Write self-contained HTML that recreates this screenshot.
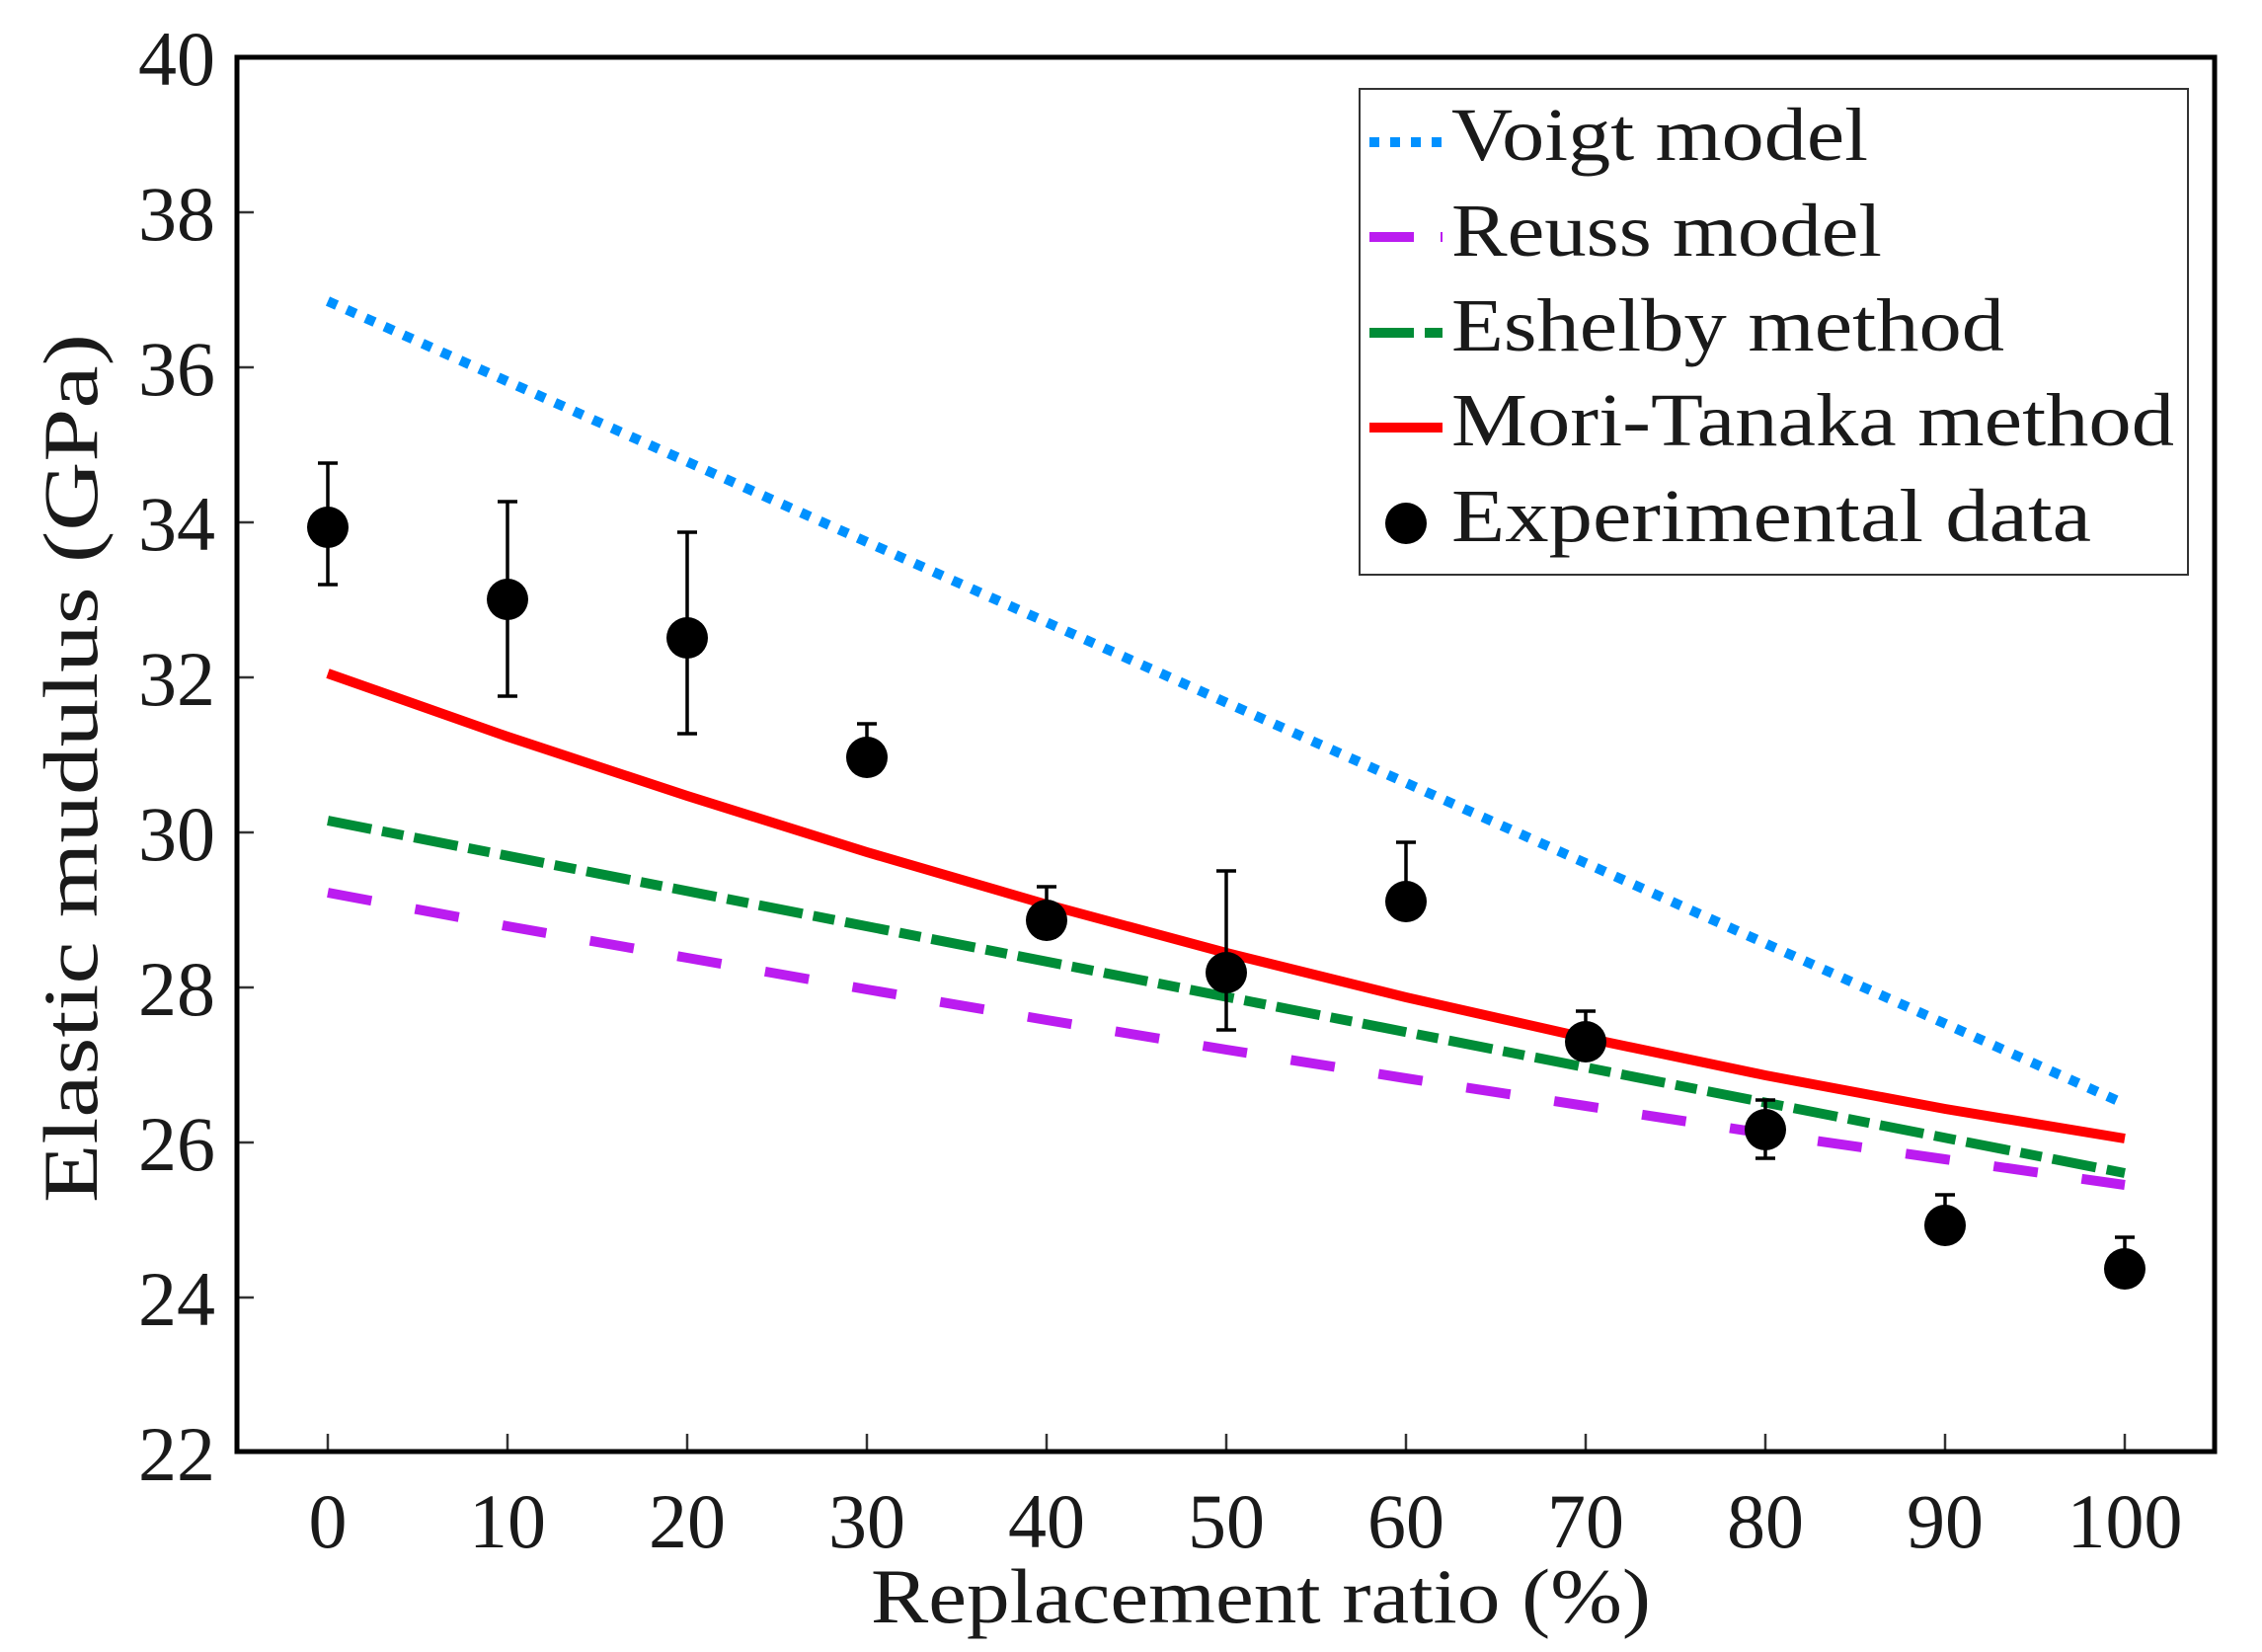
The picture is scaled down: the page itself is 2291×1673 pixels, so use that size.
<!DOCTYPE html>
<html><head><meta charset="utf-8"><style>
html,body{margin:0;padding:0;background:#fff;}
svg{display:block;}
text{font-family:"Liberation Serif","Times New Roman",serif;fill:#1a1a1a;}
</style></head><body>
<svg width="2291" height="1673" viewBox="0 0 2291 1673" xmlns="http://www.w3.org/2000/svg">
<rect width="2291" height="1673" fill="#fff"/>
<g stroke="#333" stroke-width="2.5">
<line x1="240" y1="215" x2="257" y2="215"/><line x1="240" y1="372" x2="257" y2="372"/>
<line x1="240" y1="529" x2="257" y2="529"/><line x1="240" y1="686" x2="257" y2="686"/>
<line x1="240" y1="843" x2="257" y2="843"/><line x1="240" y1="1000" x2="257" y2="1000"/>
<line x1="240" y1="1157" x2="257" y2="1157"/><line x1="240" y1="1314" x2="257" y2="1314"/>
<line x1="332" y1="1470" x2="332" y2="1452"/><line x1="514" y1="1470" x2="514" y2="1452"/>
<line x1="696" y1="1470" x2="696" y2="1452"/><line x1="878" y1="1470" x2="878" y2="1452"/>
<line x1="1060" y1="1470" x2="1060" y2="1452"/><line x1="1242" y1="1470" x2="1242" y2="1452"/>
<line x1="1424" y1="1470" x2="1424" y2="1452"/><line x1="1606" y1="1470" x2="1606" y2="1452"/>
<line x1="1788" y1="1470" x2="1788" y2="1452"/><line x1="1970" y1="1470" x2="1970" y2="1452"/>
<line x1="2152" y1="1470" x2="2152" y2="1452"/>
</g>
<g font-size="78" text-anchor="end">
<text x="218" y="86">40</text><text x="218" y="243">38</text><text x="218" y="400">36</text>
<text x="218" y="557">34</text><text x="218" y="714">32</text><text x="218" y="871">30</text>
<text x="218" y="1028">28</text><text x="218" y="1185">26</text><text x="218" y="1342">24</text>
<text x="218" y="1499">22</text>
</g>
<g font-size="78" text-anchor="middle">
<text x="332" y="1567">0</text><text x="514" y="1567">10</text><text x="696" y="1567">20</text>
<text x="878" y="1567">30</text><text x="1060" y="1567">40</text><text x="1242" y="1567">50</text>
<text x="1424" y="1567">60</text><text x="1606" y="1567">70</text><text x="1788" y="1567">80</text>
<text x="1970" y="1567">90</text><text x="2152" y="1567">100</text>
</g>
<text x="1277" y="1643" font-size="78" text-anchor="middle" textLength="790" lengthAdjust="spacingAndGlyphs">Replacement ratio (%)</text>
<text transform="translate(98,778) rotate(-90)" font-size="78" text-anchor="middle" textLength="880" lengthAdjust="spacingAndGlyphs">Elastic mudulus (GPa)</text>

<line x1="332" y1="305" x2="2152" y2="1118" stroke="#0091FF" stroke-width="10" stroke-dasharray="10 11"/>
<polyline fill="none" stroke="#BB1CF0" stroke-width="10" stroke-dasharray="45 45" points="332,904 514,938 696,970 878,1002 1060,1033 1242,1063 1424,1092 1606,1120 1788,1148 1970,1174 2152,1200"/>
<line x1="332" y1="831" x2="2152" y2="1188" stroke="#008C37" stroke-width="10" stroke-dasharray="45 11 22 11"/>
<polyline fill="none" stroke="#FF0000" stroke-width="10" points="332,682 514,746 696,806 878,863 1060,916 1242,965 1424,1010 1606,1051 1788,1089 1970,1123 2152,1153"/>

<g stroke="#000" stroke-width="3.5" fill="none">
<path d="M332,469V592M322,469H342M322,592H342"/>
<path d="M514,508V705M504,508H524M504,705H524"/>
<path d="M696,539V743M686,539H706M686,743H706"/>
<path d="M878,733V764M868,733H888M868,764H888"/>
<path d="M1060,898V949M1050,898H1070M1050,949H1070"/>
<path d="M1242,882V1043M1232,882H1252M1232,1043H1252"/>
<path d="M1424,853V913M1414,853H1434M1414,913H1434"/>
<path d="M1606,1024V1056M1596,1024H1616M1596,1056H1616"/>
<path d="M1788,1114V1173M1778,1114H1798M1778,1173H1798"/>
<path d="M1970,1210V1240M1960,1210H1980M1960,1240H1980"/>
<path d="M2152,1253V1283M2142,1253H2162M2142,1283H2162"/>
</g>
<g fill="#000">
<circle cx="332" cy="534" r="21"/><circle cx="514" cy="607" r="21"/><circle cx="696" cy="646" r="21"/>
<circle cx="878" cy="767" r="21"/><circle cx="1060" cy="932" r="21"/><circle cx="1242" cy="985" r="21"/>
<circle cx="1424" cy="913" r="21"/><circle cx="1606" cy="1055" r="21"/><circle cx="1788" cy="1144" r="21"/>
<circle cx="1970" cy="1241" r="21"/><circle cx="2152" cy="1285" r="21"/>
</g>

<rect x="240" y="58" width="2003" height="1412" fill="none" stroke="#000" stroke-width="5"/>

<rect x="1377" y="90" width="839" height="492" fill="#fff" stroke="#333" stroke-width="2"/>
<line x1="1387" y1="144" x2="1461" y2="144" stroke="#0091FF" stroke-width="10" stroke-dasharray="10 11"/>
<line x1="1387" y1="240" x2="1461" y2="240" stroke="#BB1CF0" stroke-width="10" stroke-dasharray="45 27"/>
<line x1="1387" y1="337" x2="1461" y2="337" stroke="#008C37" stroke-width="10" stroke-dasharray="45 11 22 11"/>
<line x1="1387" y1="433" x2="1461" y2="433" stroke="#FF0000" stroke-width="10"/>
<circle cx="1424" cy="530" r="21" fill="#000"/>
<g font-size="76">
<text x="1470" y="162" textLength="422" lengthAdjust="spacingAndGlyphs">Voigt model</text>
<text x="1470" y="259" textLength="436" lengthAdjust="spacingAndGlyphs">Reuss model</text>
<text x="1470" y="355" textLength="560" lengthAdjust="spacingAndGlyphs">Eshelby method</text>
<text x="1470" y="451" textLength="732" lengthAdjust="spacingAndGlyphs">Mori-Tanaka method</text>
<text x="1470" y="548" textLength="648" lengthAdjust="spacingAndGlyphs">Experimental data</text>
</g>
</svg>
</body></html>
